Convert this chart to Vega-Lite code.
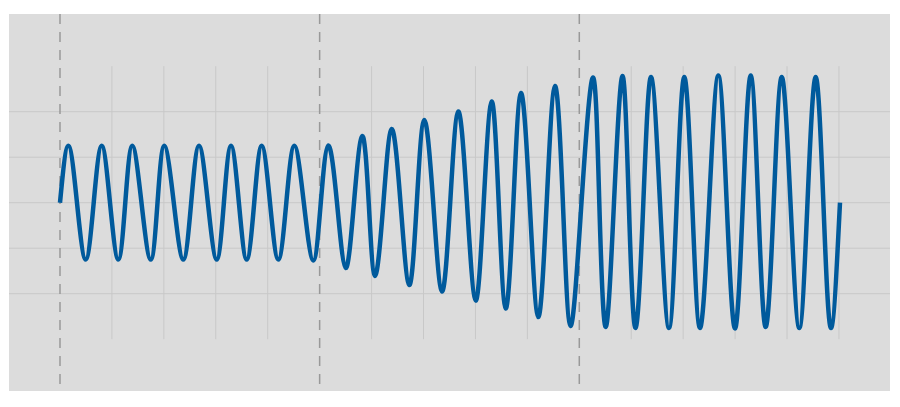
{
  "$schema": "https://vega.github.io/schema/vega-lite/v6.json",
  "width": 881,
  "height": 377,
  "autosize": {"type": "none"},
  "padding": {"left": 9, "top": 14, "right": 10, "bottom": 16},
  "background": "#ffffff",
  "config": {"view": {"fill": "#dcdcdc", "stroke": null}},
  "datasets": {
    "hgrid": [{"y": -2}, {"y": -1}, {"y": 0}, {"y": 1}, {"y": 2}],
    "vgrid": [
      {"x": 1, "y0": -3, "y1": 3}, {"x": 2, "y0": -3, "y1": 3}, {"x": 3, "y0": -3, "y1": 3},
      {"x": 4, "y0": -3, "y1": 3}, {"x": 6, "y0": -3, "y1": 3}, {"x": 7, "y0": -3, "y1": 3},
      {"x": 8, "y0": -3, "y1": 3}, {"x": 9, "y0": -3, "y1": 3}, {"x": 11, "y0": -3, "y1": 3},
      {"x": 12, "y0": -3, "y1": 3}, {"x": 13, "y0": -3, "y1": 3}, {"x": 14, "y0": -3, "y1": 3},
      {"x": 15, "y0": -3, "y1": 3}
    ],
    "dashed": [{"x": 0}, {"x": 5}, {"x": 10}],
    "wave": [
      {"t": 0, "v": 0},
      {"t": 0.160, "v": 1.25}, {"t": 0.327, "v": 0}, {"t": 0.495, "v": -1.25}, {"t": 0.649, "v": 0},
      {"t": 0.803, "v": 1.25}, {"t": 0.963, "v": 0}, {"t": 1.123, "v": -1.25}, {"t": 1.257, "v": 0},
      {"t": 1.392, "v": 1.25}, {"t": 1.569, "v": 0}, {"t": 1.747, "v": -1.25}, {"t": 1.878, "v": 0},
      {"t": 2.008, "v": 1.25}, {"t": 2.191, "v": 0}, {"t": 2.374, "v": -1.25}, {"t": 2.526, "v": 0},
      {"t": 2.677, "v": 1.25}, {"t": 2.848, "v": 0}, {"t": 3.018, "v": -1.25}, {"t": 3.156, "v": 0},
      {"t": 3.293, "v": 1.25}, {"t": 3.445, "v": 0}, {"t": 3.595, "v": -1.25}, {"t": 3.740, "v": 0},
      {"t": 3.884, "v": 1.25}, {"t": 4.044, "v": 0}, {"t": 4.204, "v": -1.25}, {"t": 4.358, "v": 0},
      {"t": 4.512, "v": 1.25}, {"t": 4.695, "v": 0}, {"t": 4.878, "v": -1.27}, {"t": 5.022, "v": 0},
      {"t": 5.167, "v": 1.257}, {"t": 5.334, "v": 0}, {"t": 5.502, "v": -1.435}, {"t": 5.661, "v": 0},
      {"t": 5.821, "v": 1.466}, {"t": 5.945, "v": 0}, {"t": 6.066, "v": -1.611}, {"t": 6.228, "v": 0},
      {"t": 6.387, "v": 1.620}, {"t": 6.557, "v": 0}, {"t": 6.726, "v": -1.809}, {"t": 6.871, "v": 0},
      {"t": 7.015, "v": 1.818}, {"t": 7.187, "v": 0}, {"t": 7.356, "v": -1.952}, {"t": 7.514, "v": 0},
      {"t": 7.670, "v": 2.004}, {"t": 7.837, "v": 0}, {"t": 8.005, "v": -2.149}, {"t": 8.159, "v": 0},
      {"t": 8.313, "v": 2.224}, {"t": 8.448, "v": 0}, {"t": 8.583, "v": -2.325}, {"t": 8.731, "v": 0},
      {"t": 8.877, "v": 2.411}, {"t": 9.045, "v": 0}, {"t": 9.210, "v": -2.512}, {"t": 9.372, "v": 0},
      {"t": 9.532, "v": 2.565}, {"t": 9.684, "v": 0}, {"t": 9.831, "v": -2.710}, {"t": 10.042, "v": 0},
      {"t": 10.264, "v": 2.752}, {"t": 10.385, "v": 0}, {"t": 10.508, "v": -2.732}, {"t": 10.668, "v": 0},
      {"t": 10.832, "v": 2.785}, {"t": 10.953, "v": 0}, {"t": 11.082, "v": -2.754}, {"t": 11.233, "v": 0},
      {"t": 11.381, "v": 2.763}, {"t": 11.554, "v": 0}, {"t": 11.727, "v": -2.754}, {"t": 11.876, "v": 0},
      {"t": 12.022, "v": 2.763}, {"t": 12.174, "v": 0}, {"t": 12.324, "v": -2.754}, {"t": 12.501, "v": 0},
      {"t": 12.677, "v": 2.796}, {"t": 12.838, "v": 0}, {"t": 12.998, "v": -2.765}, {"t": 13.150, "v": 0},
      {"t": 13.301, "v": 2.796}, {"t": 13.445, "v": 0}, {"t": 13.589, "v": -2.732}, {"t": 13.744, "v": 0},
      {"t": 13.898, "v": 2.763}, {"t": 14.067, "v": 0}, {"t": 14.237, "v": -2.754}, {"t": 14.394, "v": 0},
      {"t": 14.552, "v": 2.763}, {"t": 14.700, "v": 0}, {"t": 14.847, "v": -2.754}, {"t": 15.02, "v": 0}
    ]
  },
  "layer": [
    {
      "data": {"name": "hgrid"},
      "mark": {"type": "rule", "color": "#c8c8c8", "strokeWidth": 1},
      "encoding": {
        "y": {"field": "y", "type": "quantitative", "scale": {"domain": [-4.138, 4.147], "nice": false, "zero": false}, "axis": null}
      }
    },
    {
      "data": {"name": "vgrid"},
      "mark": {"type": "rule", "color": "#c8c8c8", "strokeWidth": 1},
      "encoding": {
        "x": {"field": "x", "type": "quantitative", "scale": {"domain": [-0.982, 15.983], "nice": false, "zero": false}, "axis": null},
        "y": {"field": "y0", "type": "quantitative", "scale": {"domain": [-4.138, 4.147], "nice": false, "zero": false}, "axis": null},
        "y2": {"field": "y1"}
      }
    },
    {
      "data": {"name": "dashed"},
      "mark": {"type": "rule", "color": "#999999", "strokeWidth": 1.5, "strokeDash": [10, 8]},
      "encoding": {
        "x": {"field": "x", "type": "quantitative", "scale": {"domain": [-0.982, 15.983], "nice": false, "zero": false}, "axis": null}
      }
    },
    {
      "data": {"name": "wave"},
      "mark": {"type": "line", "color": "#005a9c", "strokeWidth": 4.5, "interpolate": "natural", "strokeCap": "butt"},
      "encoding": {
        "x": {"field": "t", "type": "quantitative", "scale": {"domain": [-0.982, 15.983], "nice": false, "zero": false}, "axis": null},
        "y": {"field": "v", "type": "quantitative", "scale": {"domain": [-4.138, 4.147], "nice": false, "zero": false}, "axis": null}
      }
    }
  ]
}
